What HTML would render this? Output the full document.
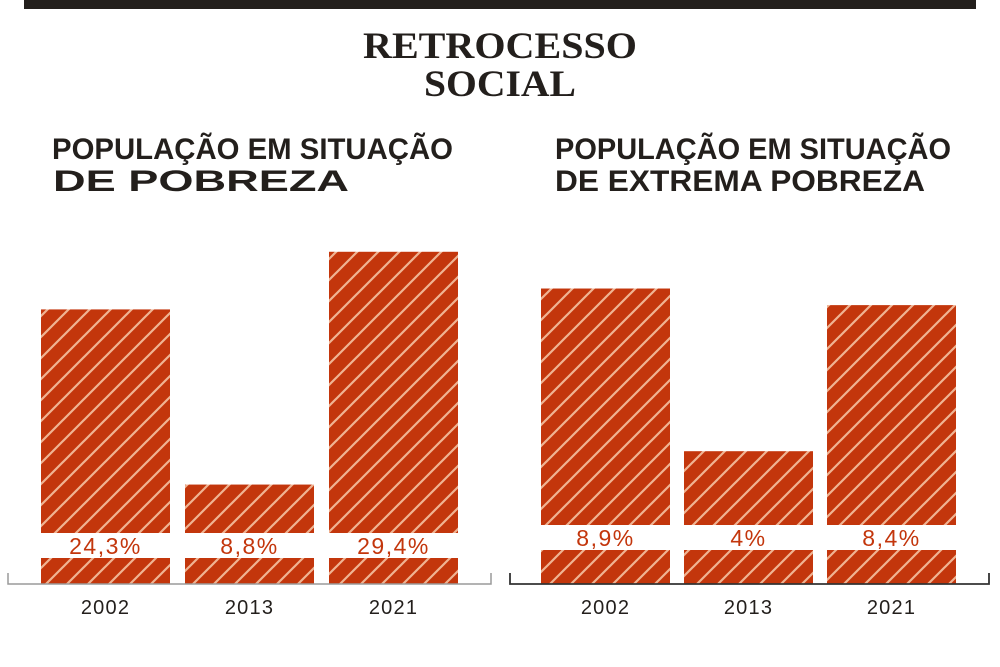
<!DOCTYPE html>
<html><head><meta charset="utf-8">
<style>
html,body{margin:0;padding:0;background:#fff;}
body{width:1000px;height:667px;overflow:hidden;position:relative;}
svg{display:block;}
</style></head>
<body>
<svg id="chart" width="1000" height="667" viewBox="0 0 1000 667" xmlns="http://www.w3.org/2000/svg">
<defs>
<pattern id="hatch" patternUnits="userSpaceOnUse" width="21" height="21">
<rect width="21" height="21" fill="#c3360c"/>
<path d="M-2,23 L23,-2 M-2,2 L2,-2 M19,23 L23,19" stroke="#f0b493" stroke-width="2.2"/>
</pattern>
</defs>
<rect x="24" y="0" width="952" height="9" fill="#231f1c"/>
<text x="363" y="58" textLength="274" lengthAdjust="spacingAndGlyphs" font-family="Liberation Serif, serif" font-weight="bold" font-size="37" fill="#231f1c">RETROCESSO</text>
<text x="424" y="96" textLength="152" lengthAdjust="spacingAndGlyphs" font-family="Liberation Serif, serif" font-weight="bold" font-size="37" fill="#231f1c">SOCIAL</text>
<g font-family="Liberation Sans, sans-serif" font-weight="bold" font-size="30" fill="#231f1c">
<text x="52" y="159" textLength="401" lengthAdjust="spacingAndGlyphs">POPULAÇÃO EM SITUAÇÃO</text>
<text x="53" y="191" textLength="296" lengthAdjust="spacingAndGlyphs">DE POBREZA</text>
<text x="555" y="159" textLength="396" lengthAdjust="spacingAndGlyphs">POPULAÇÃO EM SITUAÇÃO</text>
<text x="555" y="191" textLength="370" lengthAdjust="spacingAndGlyphs">DE EXTREMA POBREZA</text>
</g>
<g id="left"></g>
<g id="right"></g>
</svg>
<script>
const categories = ["2002", "2013", "2021"];
const povertyValues = [24.3, 8.8, 29.4];
const povertyLabels = ["24,3%", "8,8%", "29,4%"];
const extremeValues = [8.9, 4, 8.4];
const extremeLabels = ["8,9%", "4%", "8,4%"];

const NS = "http://www.w3.org/2000/svg";
function mk(tag, attrs, parent){
  const e = document.createElementNS(NS, tag);
  for (const k in attrs) e.setAttribute(k, attrs[k]);
  parent.appendChild(e);
  return e;
}
function drawChart(g, cfg, values, labels){
  const y = v => cfg.base - v * cfg.k;
  const x = i => cfg.x0 + i * cfg.step;
  values.forEach((v, i) => {
    const r = mk("rect", {x: x(i), y: y(v), width: cfg.bw, height: cfg.base - y(v), fill: "url(#hatch)"}, g);
    
    
    const band = mk("rect", {x: x(i) - 1, y: cfg.bandY, width: cfg.bw + 2, height: 25, fill: "#fff"}, g);
    
    
    const t = mk("text", {x: x(i) + cfg.bw / 2, y: cfg.bandY + 21, "text-anchor": "middle", "font-family": "Liberation Sans, sans-serif", "font-size": "23", "letter-spacing": "1.5", fill: "#c3360c"}, g);
    t.textContent = labels[i];
    
    
    const c = mk("text", {x: x(i) + cfg.bw / 2, y: cfg.base + 30, "text-anchor": "middle", "font-family": "Liberation Sans, sans-serif", "font-size": "20", "letter-spacing": "1.2", fill: "#231f1c"}, g);
    c.textContent = categories[i];
    
    
  });
  const ax = mk("path", {d: `M${cfg.ax0},${cfg.base - 11} V${cfg.base} H${cfg.ax1} V${cfg.base - 11}`, fill: "none", stroke: cfg.axisColor, "stroke-width": cfg.axisW}, g);
  
  
}
drawChart(document.getElementById("left"),
  {base: 584, k: 11.3, x0: 41, step: 144, bw: 129, bandY: 533, ax0: 8, ax1: 491, axisColor: "#9a9a9a", axisW: 1.5},
  povertyValues, povertyLabels);
drawChart(document.getElementById("right"),
  {base: 584, k: 33.2, x0: 541, step: 143, bw: 129, bandY: 525, ax0: 510, ax1: 989, axisColor: "#333", axisW: 1.8},
  extremeValues, extremeLabels);
</script>
</body></html>
